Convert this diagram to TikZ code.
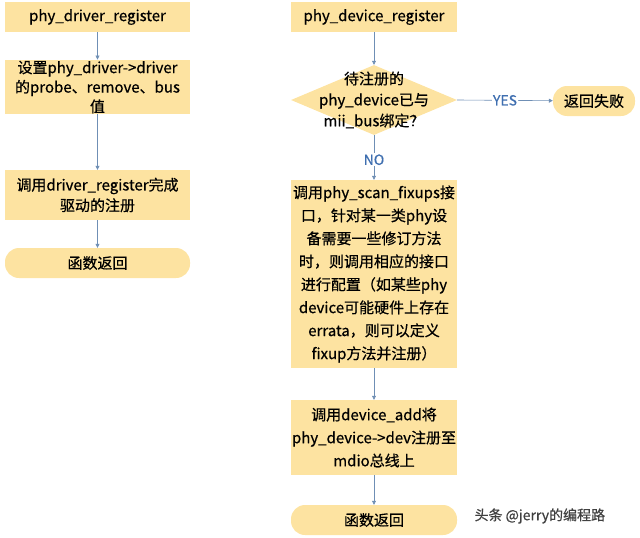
\documentclass[tikz,border=0pt]{standalone}
\usepackage{fontspec}
\setmainfont{Noto Sans CJK SC}[FakeBold=0.6]
\usetikzlibrary{shapes.geometric,arrows.meta}
\definecolor{fillc}{HTML}{FDE3A1}
\definecolor{arrc}{HTML}{6F8FB5}
\definecolor{labc}{HTML}{3F6FB0}
\begin{document}
\begin{tikzpicture}[x=1pt,y=-1pt,
 box/.style={fill=fillc,minimum width=185pt,align=center,font=\fontsize{15}{20.5}\selectfont,inner sep=1pt},
 rbox/.style={box,rounded corners=14pt},
 arr/.style={draw=arrc,-{Triangle[width=4pt,length=4pt]},line width=0.6pt},
 lab/.style={text=labc,font=\fontsize{14}{16}\selectfont}]
\useasboundingbox (0,0) rectangle (640,538);
\node[box,minimum height=30pt] (a1) at (97.5,17) {phy\_driver\_register};
\node[box,minimum height=47pt,font=\fontsize{15}{19.5}\selectfont] (a2) at (97.5,87) {设置phy\_driver->driver\\的probe、remove、bus\\值};
\node[box,minimum height=50pt] (a3) at (97.5,195) {调用driver\_register完成\\驱动的注册};
\node[rbox,minimum height=30pt] (a4) at (97.5,263) {函数返回};
\draw[arr] (a1) -- (a2); \draw[arr] (a2) -- (a3); \draw[arr] (a3) -- (a4);
\node[box,minimum width=166pt,minimum height=30pt] (b1) at (374,17) {phy\_device\_register};
\node[diamond,fill=fillc,minimum width=166pt,minimum height=70pt,inner sep=0pt] (d) at (374,100) {};
\node[align=center,font=\fontsize{15}{21}\selectfont] at (d) {待注册的\\phy\_device已与\\mii\_bus绑定？};
\node[rbox,minimum width=82pt,minimum height=30pt] (f) at (594,101) {返回失败};
\node[box,minimum width=166pt,minimum height=188pt,font=\fontsize{15}{23}\selectfont] (b2) at (374,274) {调用phy\_scan\_fixups接\\口，针对某一类phy设\\备需要一些修订方法\\时，则调用相应的接口\\进行配置（如某些phy\\device可能硬件上存在\\errata，则可以定义\\fixup方法并注册）};
\node[box,minimum width=166pt,minimum height=75pt,font=\fontsize{15}{23}\selectfont] (b3) at (374,437.5) {调用device\_add将\\phy\_device->dev注册至\\mdio总线上};
\node[rbox,minimum width=166pt,minimum height=30pt] (b4) at (374,520) {函数返回};
\draw[arr] (b1) -- (d);
\draw[arr] (d.east) -- node[lab,fill=white,inner sep=1pt]{YES} (f);
\draw[arr] (d.south) -- node[lab,fill=white,inner sep=1pt,pos=0.55]{NO} (b2);
\draw[arr] (b2) -- (b3); \draw[arr] (b3) -- (b4);
\node[text=white!25!black,font=\fontsize{14}{16}\selectfont,anchor=west] at (471,516) {头条 @jerry的编程路};
\end{tikzpicture}
\end{document}
